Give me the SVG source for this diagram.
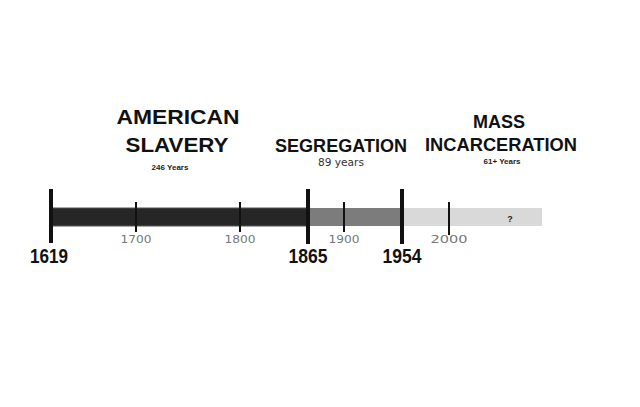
<svg xmlns="http://www.w3.org/2000/svg" width="640" height="407" viewBox="0 0 640 407">
<style>
.title{font-family:"Liberation Sans",Arial,sans-serif;font-weight:bold;fill:#111;text-anchor:middle}
.seg{font-family:"Liberation Sans",Arial,sans-serif;font-weight:bold;fill:#111;text-anchor:middle}
.sub{font-family:"Liberation Sans",Arial,sans-serif;font-weight:bold;fill:#222;text-anchor:middle;font-size:8px}
.subl{font-family:"DejaVu Sans",sans-serif;fill:#333;text-anchor:middle;font-size:10px}
.minor{font-family:"DejaVu Sans",sans-serif;fill:#777;text-anchor:middle;font-size:11px}
.major{font-family:"Liberation Sans",Arial,sans-serif;font-weight:bold;fill:#111;text-anchor:middle;font-size:20px}
.mtick{stroke:#111;stroke-width:4}
.ntick{stroke:#111;stroke-width:2}
</style>
<rect x="0" y="0" width="640" height="407" fill="#fff"/>
<g id="slavery-title">
<text class="title" x="178" y="124" font-size="21" textLength="123" lengthAdjust="spacingAndGlyphs">AMERICAN</text>
<text class="title" x="177" y="152" font-size="21" textLength="103" lengthAdjust="spacingAndGlyphs">SLAVERY</text>
<text class="sub" x="170" y="170">246 Years</text>
</g>
<g id="segregation-title">
<text class="seg" x="341" y="152" font-size="18" textLength="132" lengthAdjust="spacingAndGlyphs">SEGREGATION</text>
<text class="subl" x="341" y="166" textLength="46" lengthAdjust="spacingAndGlyphs">89 years</text>
</g>
<g id="incarceration-title">
<text class="title" x="499" y="128" font-size="18" textLength="52" lengthAdjust="spacingAndGlyphs">MASS</text>
<text class="title" x="501" y="151" font-size="18" textLength="152" lengthAdjust="spacingAndGlyphs">INCARCERATION</text>
<text class="sub" x="502" y="164">61+ Years</text>
</g>
<g id="bars">
<rect x="52" y="208" width="256" height="18" fill="#262626" stroke="#555" stroke-width="1"/>
<rect x="308" y="208" width="93" height="18" fill="#7c7c7c"/>
<rect x="401" y="208" width="141" height="18" fill="#d9d9d9"/>
<text x="510" y="222" font-family="Liberation Sans,Arial,sans-serif" font-weight="bold" font-size="9" fill="#222" text-anchor="middle">?</text>
</g>
<g id="ticks">
<line class="mtick" x1="51" y1="189" x2="51" y2="243"/>
<line class="mtick" x1="308" y1="189" x2="308" y2="244"/>
<line class="mtick" x1="402" y1="189" x2="402" y2="244"/>
<line class="ntick" x1="136" y1="202" x2="136" y2="232"/>
<line class="ntick" x1="240" y1="202" x2="240" y2="232"/>
<line class="ntick" x1="344" y1="202" x2="344" y2="232"/>
<line class="ntick" x1="449" y1="202" x2="449" y2="235"/>
</g>
<g id="labels">
<text class="minor" x="136" y="243" textLength="31" lengthAdjust="spacingAndGlyphs">1700</text>
<text class="minor" x="240" y="243" textLength="31" lengthAdjust="spacingAndGlyphs">1800</text>
<text class="minor" x="344" y="243" textLength="31" lengthAdjust="spacingAndGlyphs">1900</text>
<text class="minor" x="449" y="243" textLength="37" lengthAdjust="spacingAndGlyphs">2000</text>
<text class="major" x="49" y="263" textLength="38" lengthAdjust="spacingAndGlyphs">1619</text>
<text class="major" x="308" y="263" textLength="39" lengthAdjust="spacingAndGlyphs">1865</text>
<text class="major" x="402" y="263" textLength="39" lengthAdjust="spacingAndGlyphs">1954</text>
</g>
</svg>
